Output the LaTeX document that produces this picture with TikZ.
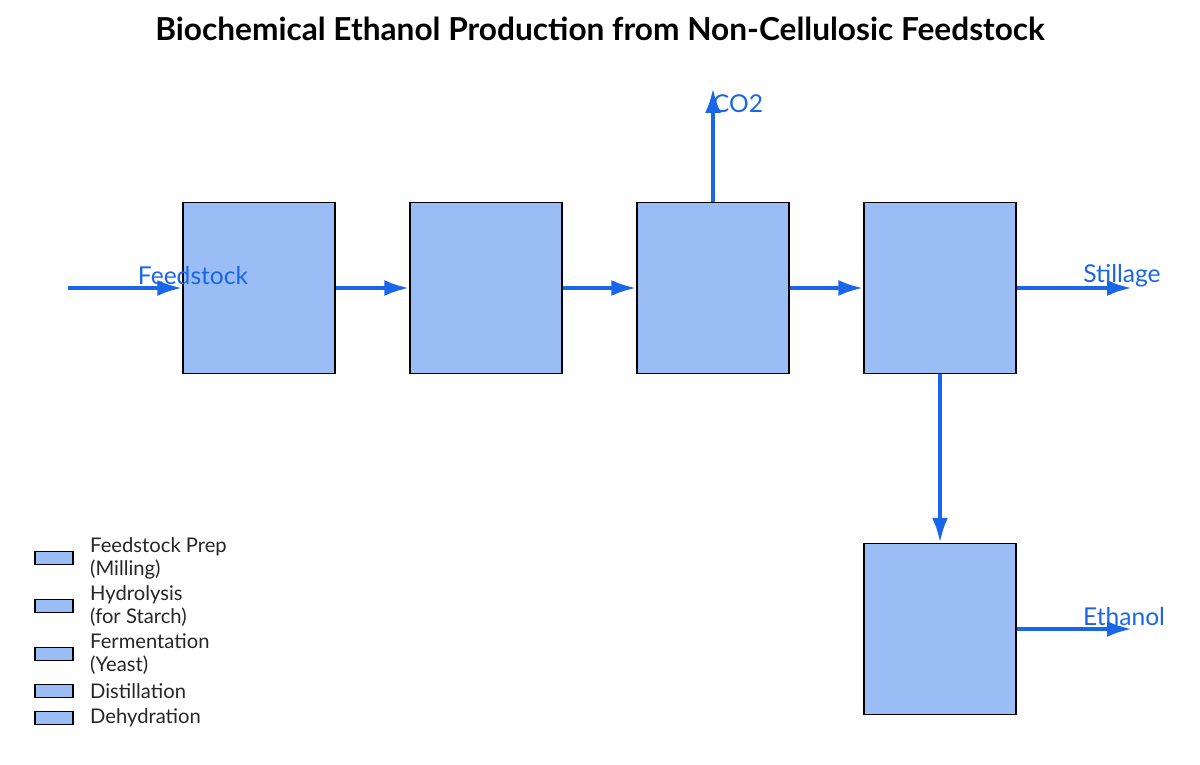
\documentclass[tikz,border=0pt]{standalone}
\usepackage{fontspec}
\setmainfont{Lato}
\usetikzlibrary{arrows.meta}

\definecolor{flow}{HTML}{1A66E8}
\definecolor{unit}{HTML}{9BBDF5}

\tikzset{
	block/.style = {draw = black, thick, fill = unit, minimum width = 3.04cm, minimum height = 3.42cm, inner sep = 0},
	stream/.style = {draw = flow, line width = 2.2pt, -{Latex[length = 5mm, width = 3.2mm]}},
	tag/.style = {text = flow, font = \fontsize{14}{16}\selectfont},
	key/.style = {draw = black, thick, fill = unit, minimum width = 0.76cm, minimum height = 0.26cm, inner sep = 0},
	keytext/.style = {anchor = west, align = left, font = \fontsize{11.5}{13}\selectfont, text = black!85}
}

\begin{document}
\begin{tikzpicture}[x = 0.02cm, y = -0.02cm]

% Frame

\useasboundingbox (0, 0) rectangle (1200, 764);

% Title

\node (title) at (600, 29) {\fontsize{18}{20}\selectfont\bfseries Biochemical Ethanol Production from Non-Cellulosic Feedstock};

% Process units

\node [block] (prep) at (259, 288) {};
\node [block] (hydro) at (486, 288) {};
\node [block] (ferm) at (713, 288) {};
\node [block] (dist) at (940, 288) {};
\node [block] (dehyd) at (940, 629) {};

% Free ends

\coordinate (in) at (68, 288);
\coordinate (co2) at (713, 88);
\coordinate (still) at (1132, 288);
\coordinate (etoh) at (1132, 629);

% Streams

\draw [stream] (in) -- (prep.west);
\draw [stream] (prep.east) -- (hydro.west);
\draw [stream] (hydro.east) -- (ferm.west);
\draw [stream] (ferm.east) -- (dist.west);
\draw [stream] (ferm.north) -- (co2);
\draw [stream] (dist.east) -- (still);
\draw [stream] (dist.south) -- (dehyd.north);
\draw [stream] (dehyd.east) -- (etoh);

% Stream labels

\node [tag] (lfeed) at (193, 276) {Feedstock};
\node [tag] (lco2) at (738, 104) {CO2};
\node [tag] (lstill) at (1122, 276) {Stillage};
\node [tag] (letoh) at (1124, 617) {Ethanol};

% Legend

\foreach \y/\t [count = \i] in {558/{Feedstock Prep\\(Milling)}, 606/{Hydrolysis\\(for Starch)}, 654/{Fermentation\\(Yeast)}, 691/{Distillation}, 718/{Dehydration}}{
	\node [key] (k\i) at (54, \y) {};
	\node [keytext] (kt\i) at (84, \y) {\t};
}

\end{tikzpicture}
\end{document}
